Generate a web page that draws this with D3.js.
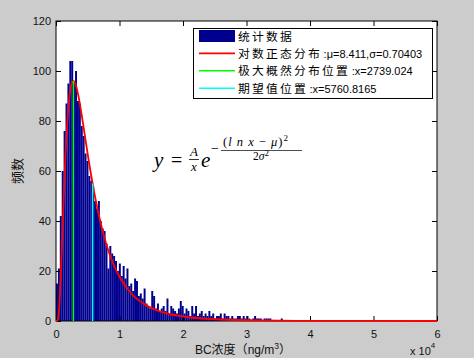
<!DOCTYPE html>
<html><head><meta charset="utf-8">
<script src="https://cdn.jsdelivr.net/npm/d3@7"></script>
<style>
html,body{margin:0;padding:0;background:#cccccc;}
svg{display:block;}
</style></head>
<body>
<svg id="c" width="474" height="358"></svg>
<script>
// ---- data ----
const binWidth = 300;
const binCounts = [15,21,42,60,76,87,95,104,104,96,100,88,87,78,74,67,64,58,56,54,
  48,45,48,40,37,36,31,21,30,27,26,24,20,23,18,22,17,21,14,15,
  12,17,16,10,11,9,13,7,6,5,12,10,5,7,4,5,6,4,9,3,
  6,5,4,3,5,8,6,3,5,4,2,6,3,6,2,3,4,2,3,2,
  4,2,3,1,2,2,3,1,3,2,2,1,2,1,1,2,2,1,2,1,
  2,1,0,1,2,1,1,1,0,1,1,1,1,0,0,0,0,0,1,0];
const fitX = [0,200,300,500,750,1000,1250,1500,1750,2000,2250,2500,2739,3000,3500,4000,4500,5000,5500,6000,7000,8000,9000,10000,12000,14000,16000,18000,20000,25000,30000,40000,60000];
const fitY = [0,0.1,0.7,5.2,17.7,34.5,51.6,66.6,78.4,86.9,92.3,95.2,96,95.2,90.4,83.1,74.9,66.6,58.8,51.6,39.5,30.1,23,17.7,10.6,6.55,4.15,2.7,1.8,0.7,0.3,0.07,0.01];
const modeX = 2739.024, modeY = 96;
const meanX = 5760.8165, meanY = 55;
const xTicks = [0,10000,20000,30000,40000,50000,60000];
const yTicks = [0,20,40,60,80,100,120];
const legendNames = ["统计数据","对数正态分布","极大概然分布位置","期望值位置"];
const legendSuffix = ["",":μ=8.411,σ=0.70403",":x=2739.024",":x=5760.8165"];
const legendColors = ["#00008f","#ff0000","#00ff00","#00ffff"];

// ---- chart ----
const svg = d3.select("#c");
const L=56, R=437, T=21, B=321;
const x = d3.scaleLinear().domain([0,60000]).range([L,R]);
const y = d3.scaleLinear().domain([0,120]).range([B,T]);

svg.append("rect").attr("x",L).attr("y",T).attr("width",R-L).attr("height",B-T).attr("fill","#fff");

// bars
svg.append("g").selectAll("rect").data(binCounts).join("rect")
  .attr("x",(d,i)=>x(i*binWidth))
  .attr("width",(d,i)=>x((i+1)*binWidth)-x(i*binWidth)+0.05)
  .attr("y",d=>y(d)).attr("height",d=>y(0)-y(d))
  .attr("fill","#00008f");

// axes
const fmt = d=>d/10000;
const gx = svg.append("g").attr("transform",`translate(0,${B})`)
  .call(d3.axisBottom(x).tickValues(xTicks).tickFormat(fmt).tickSizeInner(-5).tickSizeOuter(0).tickPadding(9));
const gxt = svg.append("g").attr("transform",`translate(0,${T})`)
  .call(d3.axisTop(x).tickValues(xTicks).tickFormat("").tickSizeInner(-5).tickSizeOuter(0));
const gy = svg.append("g").attr("transform",`translate(${L},0)`)
  .call(d3.axisLeft(y).tickValues(yTicks).tickSizeInner(-5).tickSizeOuter(0).tickPadding(5));
const gyr = svg.append("g").attr("transform",`translate(${R},0)`)
  .call(d3.axisRight(y).tickValues(yTicks).tickFormat("").tickSizeInner(-5).tickSizeOuter(0));
[gx,gxt,gy,gyr].forEach(g=>{
  g.select(".domain").remove();
  g.selectAll("text").attr("font-family","Liberation Sans, Arial, sans-serif").attr("font-size",11).attr("fill","#111");
  g.selectAll("line").attr("stroke","#000");
});
svg.append("rect").attr("x",L).attr("y",T).attr("width",R-L).attr("height",B-T)
  .attr("fill","none").attr("stroke","#000").attr("stroke-width",1);

// fit curve
svg.append("path").datum(fitX.map((v,i)=>[v,fitY[i]]))
  .attr("d",d3.line().x(d=>x(d[0])).y(d=>y(d[1])).curve(d3.curveMonotoneX))
  .attr("fill","none").attr("stroke","#ff0000").attr("stroke-width",1.8);

// vertical lines
svg.append("line").attr("x1",x(modeX)).attr("x2",x(modeX)).attr("y1",y(0)).attr("y2",y(modeY))
  .attr("stroke","#00ff00").attr("stroke-width",1.5);
svg.append("line").attr("x1",x(meanX)).attr("x2",x(meanX)).attr("y1",y(0)).attr("y2",y(meanY))
  .attr("stroke","#00ffff").attr("stroke-width",1.5);

// legend
const lg = svg.append("g");
lg.append("rect").attr("x",193.5).attr("y",28.5).attr("width",239).attr("height",70)
  .attr("fill","#fff").attr("stroke","#000").attr("stroke-width",1);
legendNames.forEach((n,i)=>{
  const cy = 36 + i*17.4;
  if(i===0){
    lg.append("rect").attr("x",199).attr("y",cy-6).attr("width",36).attr("height",12).attr("fill",legendColors[0]);
  } else {
    lg.append("line").attr("x1",199).attr("x2",235).attr("y1",cy).attr("y2",cy)
      .attr("stroke",legendColors[i]).attr("stroke-width",1.6);
  }
  const target = n.length*14.1;
  lg.append("text").attr("x",238).attr("y",cy+4.5).attr("fill","#000")
    .attr("font-family","Noto Sans CJK SC, sans-serif").attr("font-size",11.8)
    .attr("letter-spacing",2.2).text(n);
  if(legendSuffix[i]) {
    const t2 = lg.append("text").attr("x",238+target+1).attr("y",cy+4.5).attr("fill","#000")
      .attr("font-family","Liberation Sans, Arial, sans-serif").attr("font-size",11).text(legendSuffix[i]);
    const w2 = t2.node().getComputedTextLength();
    const avail = 429 - (238+target+1);
    if (w2 > avail) t2.attr("font-size", 11*avail/w2);
  }
});

// formula
const f = svg.append("g").attr("font-family","Liberation Serif, Times New Roman, serif").attr("fill","#000");
f.append("text").attr("x",154).attr("y",167).attr("font-size",21).attr("font-style","italic").text("y");
f.append("text").attr("x",171).attr("y",167).attr("font-size",20).text("=");
f.append("text").attr("x",194).attr("y",156).attr("font-size",13).attr("font-style","italic").attr("text-anchor","middle").text("A");
f.append("line").attr("x1",189).attr("x2",199).attr("y1",159.5).attr("y2",159.5).attr("stroke","#000").attr("stroke-width",0.8);
f.append("text").attr("x",194).attr("y",171).attr("font-size",13).attr("font-style","italic").attr("text-anchor","middle").text("x");
f.append("text").attr("x",201).attr("y",167).attr("font-size",21).attr("font-style","italic").text("e");
f.append("text").attr("x",211).attr("y",153).attr("font-size",14).text("−");
const num = f.append("text").attr("x",223).attr("y",146).attr("font-size",12.5).attr("font-style","italic").attr("letter-spacing",1);
num.append("tspan").attr("font-style","normal").text("(");
num.append("tspan").text("l n x");
num.append("tspan").attr("font-style","normal").text(" − ");
num.append("tspan").text("μ");
num.append("tspan").attr("font-style","normal").text(")");
num.append("tspan").attr("font-style","normal").attr("font-size",9).attr("dy",-5).text("2");
f.append("line").attr("x1",221).attr("x2",302).attr("y1",150.5).attr("y2",150.5).attr("stroke","#000").attr("stroke-width",0.7);
const den = f.append("text").attr("x",253).attr("y",160).attr("font-size",11.5);
den.append("tspan").text("2");
den.append("tspan").attr("font-style","italic").text("σ");
den.append("tspan").attr("font-size",9).attr("dy",-4).text("2");

// axis labels
svg.append("text").attr("transform","translate(22,171) rotate(-90)").attr("text-anchor","middle")
  .attr("font-family","Noto Sans CJK SC, sans-serif").attr("font-size",13).attr("fill","#111").text("频数");
const xl = svg.append("text").attr("x",243).attr("y",354).attr("text-anchor","middle").attr("fill","#111")
  .attr("font-size",12);
xl.append("tspan").attr("font-family","Liberation Sans, Arial, sans-serif").text("BC");
xl.append("tspan").attr("font-family","Noto Sans CJK SC, sans-serif").text("浓度（");
xl.append("tspan").attr("font-family","Liberation Sans, Arial, sans-serif").text("ng/m");
xl.append("tspan").attr("font-family","Liberation Sans, Arial, sans-serif").attr("font-size",8.5).attr("dy",-5).text("3");
xl.append("tspan").attr("font-family","Noto Sans CJK SC, sans-serif").attr("dy",5).text("）");
const ex = svg.append("text").attr("x",410).attr("y",355).attr("fill","#111")
  .attr("font-family","Liberation Sans, Arial, sans-serif").attr("font-size",11);
ex.append("tspan").text("x 10");
ex.append("tspan").attr("font-size",8).attr("dy",-7).text("4");
</script>
</body></html>
